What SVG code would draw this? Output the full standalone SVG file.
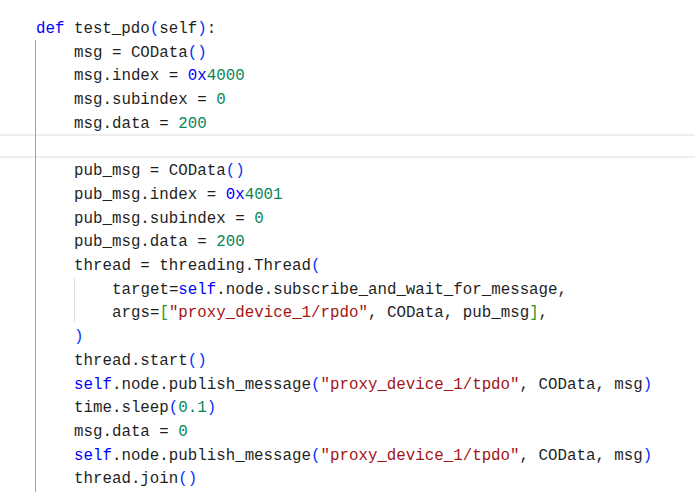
<svg xmlns="http://www.w3.org/2000/svg" width="695" height="493" viewBox="0 0 695 493">
<style>
text{font-family:"Liberation Mono","DejaVu Sans Mono",monospace;font-size:15.8px;fill:#1f1f1f;white-space:pre}
.k{fill:#0000ff}.b{fill:#0431fa}.g{fill:#319331}.n{fill:#098658}.s{fill:#a31515}
</style>
<rect width="695" height="493" fill="#fff"/>
<g id="guides">
<rect x="0" y="134" width="695" height="2" fill="#eeeeee"/>
<rect x="0" y="156" width="695" height="2" fill="#eeeeee"/>
<rect x="35" y="40" width="1" height="452" fill="#a0a0a0"/>
<rect x="74" y="278" width="1" height="44" fill="#dddddd"/>
</g>
<g id="code" xml:space="preserve">
<text x="36" y="33"><tspan class="k">def</tspan> test_pdo<tspan class="b">(</tspan>self<tspan class="b">)</tspan>:</text>
<text x="74" y="56.7">msg = COData<tspan class="b">()</tspan></text>
<text x="74" y="80.4">msg.index = <tspan class="k">0x</tspan><tspan class="n">4000</tspan></text>
<text x="74" y="104.1">msg.subindex = <tspan class="n">0</tspan></text>
<text x="74" y="127.8">msg.data = <tspan class="n">200</tspan></text>
<text x="74" y="175.2">pub_msg = COData<tspan class="b">()</tspan></text>
<text x="74" y="198.9">pub_msg.index = <tspan class="k">0x</tspan><tspan class="n">4001</tspan></text>
<text x="74" y="222.6">pub_msg.subindex = <tspan class="n">0</tspan></text>
<text x="74" y="246.3">pub_msg.data = <tspan class="n">200</tspan></text>
<text x="74" y="270">thread = threading.Thread<tspan class="b">(</tspan></text>
<text x="112" y="293.7">target=<tspan class="k">self</tspan>.node.subscribe_and_wait_for_message,</text>
<text x="112" y="317.4">args=<tspan class="g">[</tspan><tspan class="s">"proxy_device_1/rpdo"</tspan>, COData, pub_msg<tspan class="g">]</tspan>,</text>
<text x="74" y="341.1"><tspan class="b">)</tspan></text>
<text x="74" y="364.8">thread.start<tspan class="b">()</tspan></text>
<text x="74" y="388.5"><tspan class="k">self</tspan>.node.publish_message<tspan class="b">(</tspan><tspan class="s">"proxy_device_1/tpdo"</tspan>, COData, msg<tspan class="b">)</tspan></text>
<text x="74" y="412.2">time.sleep<tspan class="b">(</tspan><tspan class="n">0.1</tspan><tspan class="b">)</tspan></text>
<text x="74" y="435.9">msg.data = <tspan class="n">0</tspan></text>
<text x="74" y="459.6"><tspan class="k">self</tspan>.node.publish_message<tspan class="b">(</tspan><tspan class="s">"proxy_device_1/tpdo"</tspan>, COData, msg<tspan class="b">)</tspan></text>
<text x="74" y="483.3">thread.join<tspan class="b">()</tspan></text>
</g>
</svg>
